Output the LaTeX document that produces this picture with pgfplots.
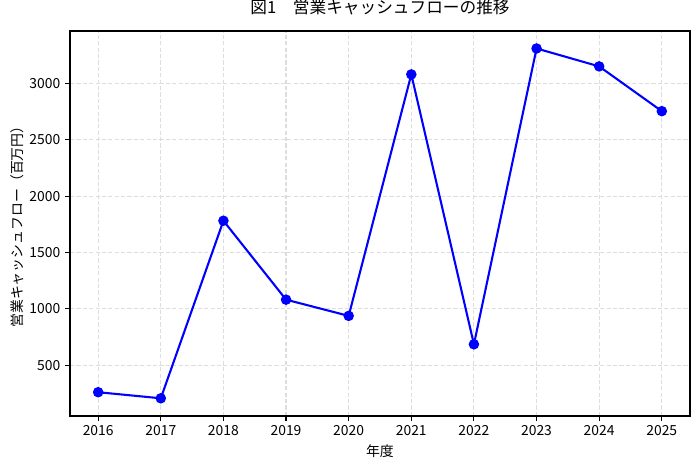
\documentclass[border=0pt]{standalone}
\usepackage{pgfplots}
\pgfplotsset{compat=1.18}
\usepackage{fontspec}
\setmainfont{Noto Sans CJK JP}
\definecolor{gridgray}{RGB}{221,221,221}
\begin{document}
\begin{tikzpicture}
\path[use as bounding box] (-50.4pt,-38.16pt) rectangle (453.6pt,299.52pt);
\begin{axis}[
    scale only axis,
    width=446.4pt, height=277.2pt,
    xmin=2015.55, xmax=2025.45,
    ymin=50, ymax=3465,
    xtick={2016,...,2025},
    ytick={500,1000,...,3000},
    xtick pos=bottom, ytick pos=left,
    /pgf/number format/assume math mode=true,
    /pgf/number format/1000 sep={},
    tick align=outside,
    major tick length=3.5pt,
    tick style={black, line width=0.8pt},
    axis line style={line width=0.8pt},
    tick label style={font=\fontsize{10}{12}\selectfont},
    grid=major,
    major grid style={gridgray, line width=0.8pt, dash pattern=on 3pt off 1.6pt},
    title={図1\quad 営業キャッシュフローの推移},
    title style={font=\fontsize{12}{14}\selectfont, at={(axis description cs:0.5,1)}, anchor=center, yshift=10.8pt},
    xlabel={年度},
    xlabel style={font=\fontsize{10}{12}\selectfont, at={(axis description cs:0.5,0)}, anchor=center, yshift=-25.2pt},
    ylabel={営業キャッシュフロー（百万円）},
    ylabel style={font=\fontsize{10}{12}\selectfont, at={(axis description cs:0,0.5)}, anchor=center, rotate=0, yshift=38pt},
]
\addplot[blue, line width=1.5pt, mark=*, mark size=3pt, mark options={fill=blue, draw=blue}] coordinates {
    (2016,261) (2017,207) (2018,1782) (2019,1082) (2020,938)
    (2021,3080) (2022,686) (2023,3310) (2024,3151) (2025,2754)
};
\end{axis}
\end{tikzpicture}
\end{document}
